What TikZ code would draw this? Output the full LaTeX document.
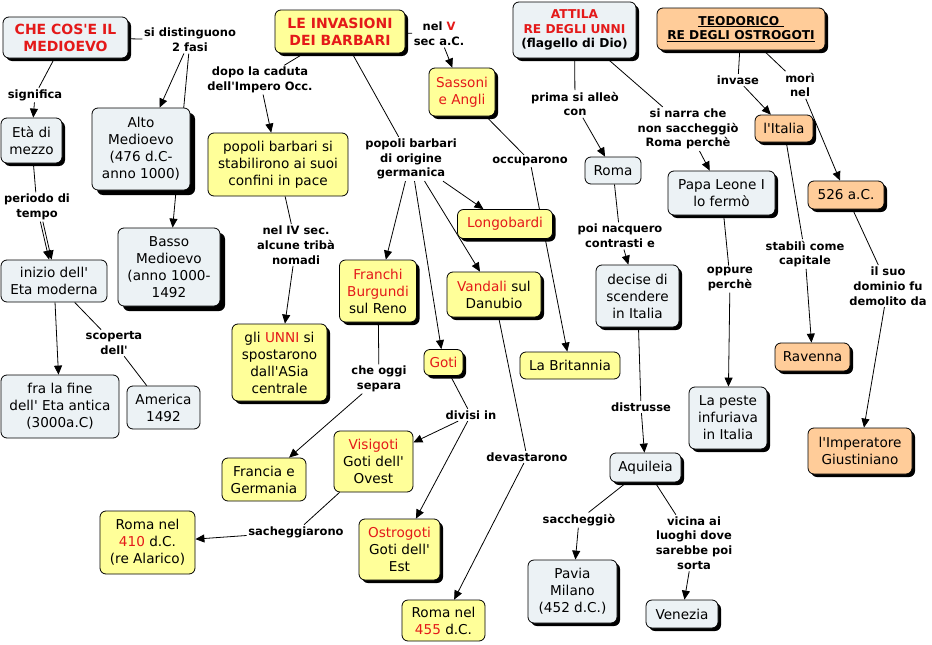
\documentclass[tikz,border=0pt]{standalone}
\usepackage{fontspec}
\setmainfont{DejaVu Sans}[Ligatures=TeXOff]
\usetikzlibrary{arrows.meta,shadows,backgrounds}

\definecolor{cmpale}{RGB}{236,242,245}
\definecolor{cmyellow}{RGB}{255,255,153}
\definecolor{cmpeach}{RGB}{255,204,153}
\definecolor{cmred}{RGB}{228,25,25}
\newcommand{\rd}[1]{\textcolor{cmred}{#1}}

\begin{document}
\begin{tikzpicture}[x=1pt, y=-1pt,
  concept/.style={draw, rounded corners=6pt, line width=0.8pt, align=center,
    inner sep=2pt, font=\fontsize{13.6}{17}\selectfont},
  pale/.style={concept, fill=cmpale},
  yel/.style={concept, fill=cmyellow},
  peach/.style={concept, fill=cmpeach},
  shad/.style={drop shadow={shadow xshift=3pt, shadow yshift=-3pt, opacity=1, fill=black}},
  bigshad/.style={drop shadow={shadow xshift=5pt, shadow yshift=-5pt, opacity=1, fill=black}},
  wh/.style 2 args={minimum width=#1pt, minimum height=#2pt},
  head/.style={font=\fontsize{14}{17}\selectfont\bfseries},
  subhead/.style={font=\fontsize{12.2}{14.8}\selectfont\bfseries},
  lbl/.style={align=center, inner sep=1.5pt, font=\fontsize{11.5}{14.8}\selectfont\bfseries},
  link/.style={line width=0.8pt},
  arr/.style={link, -{Triangle[length=9pt,width=8pt]}}]
  \useasboundingbox (0,0) rectangle (932,645);

  % medioevo
  \node[pale, shad, head, text=cmred, wh={125}{41}] (medioevo) at (65.5,37.5) {CHE COS'E IL\\MEDIOEVO};
  \node[pale, bigshad, wh={98}{82}] (alto) at (141,149) {Alto\\Medioevo\\(476 d.C-\\anno 1000)};
  \node[pale, bigshad, wh={102}{78}] (basso) at (169,267) {Basso\\Medioevo\\(anno 1000-\\1492};
  \node[pale, shad, wh={61}{45}] (eta) at (31.5,140.5) {Età di\\mezzo};
  \node[pale, wh={106}{42}] (inizio) at (54,281) {inizio dell'\\Eta moderna};
  \node[pale, wh={118}{63}] (fine) at (60,406.5) {fra la fine\\dell' Eta antica\\(3000a.C)};
  \node[pale, wh={73}{43}] (america) at (163.5,407.5) {America\\1492};

  % invasioni
  \node[yel, shad, head, text=cmred, wh={130}{43}] (invasioni) at (340,31.5) {LE INVASIONI\\DEI BARBARI};
  \node[yel, shad, text=cmred, wh={66}{48}] (sassoni) at (462,92) {Sassoni\\e Angli};
  \node[yel, wh={100}{27}] (britannia) at (570,365.5) {La Britannia};
  \node[yel, wh={140}{63}] (pace) at (278,164.5) {popoli barbari si\\stabilirono ai suoi\\confini in pace};
  \node[yel, shad, wh={95}{77}] (unni) at (279.5,362.5) {gli \rd{UNNI} si\\spostarono\\dall'ASia\\centrale};
  \node[yel, shad, wh={77}{62}] (franchi) at (378,291) {\rd{Franchi}\\\rd{Burgundi}\\sul Reno};
  \node[yel, wh={84}{43}] (francia) at (264,479.5) {Francia e\\Germania};
  \node[yel, shad, text=cmred, wh={39}{26}] (goti) at (443.5,362.5) {Goti};
  \node[yel, wh={79}{61}] (visigoti) at (373.5,461.5) {\rd{Visigoti}\\Goti dell'\\Ovest};
  \node[yel, wh={95}{63}] (roma410) at (147.5,542.5) {Roma nel\\\rd{410} d.C.\\(re Alarico)};
  \node[yel, shad, wh={81}{61}] (ostrogoti) at (399.5,549.5) {\rd{Ostrogoti}\\Goti dell'\\Est};
  \node[yel, shad, wh={94}{45}] (vandali) at (494,294.5) {\rd{Vandali} sul\\Danubio};
  \node[yel, wh={83}{41}] (roma455) at (443.5,620.5) {Roma nel\\\rd{455} d.C.};
  \node[yel, shad, text=cmred, wh={95}{29}] (longobardi) at (505,224) {Longobardi};

  % attila
  \node[pale, shad, subhead, wh={123}{56}] (attila) at (574.5,30) {\rd{ATTILA}\\\rd{RE DEGLI UNNI}\\(flagello di Dio)};
  \node[pale, wh={56}{27}] (roma) at (613,170.5) {Roma};
  \node[pale, shad, wh={83}{62}] (decise) at (637.5,296) {decise di\\scendere\\in Italia};
  \node[pale, shad, wh={71}{29}] (aquileia) at (645.5,467.5) {Aquileia};
  \node[pale, shad, wh={89}{63}] (pavia) at (572.5,591.5) {Pavia\\Milano\\(452 d.C.)};
  \node[pale, shad, wh={72}{28}] (venezia) at (682,614) {Venezia};
  \node[pale, shad, wh={107}{44}] (papa) at (721.5,193) {Papa Leone I\\lo fermò};
  \node[pale, shad, wh={78}{62}] (peste) at (728,418) {La peste\\infuriava\\in Italia};

  % teodorico
  \node[peach, shad, subhead, wh={168}{42}] (teodorico) at (741,29) {\underline{TEODORICO\ }\\\underline{RE DEGLI OSTROGOTI}};
  \node[peach, shad, wh={58}{27}] (italia) at (784,128.5) {l'Italia};
  \node[peach, shad, wh={76}{28}] (a526) at (846,195) {526 a.C.};
  \node[peach, shad, wh={75}{28}] (ravenna) at (812.5,357) {Ravenna};
  \node[peach, shad, wh={104}{46}] (imperatore) at (860,451) {l'Imperatore\\Giustiniano};

  % link labels
  \node[lbl] (dist) at (190,40) {si distinguono\\2 fasi};
  \node[lbl] (signif) at (35,95) {significa};
  \node[lbl] (periodo) at (37,207) {periodo di\\tempo};
  \node[lbl] (scoperta) at (114,343) {scoperta\\dell'};
  \node[lbl] (dopo) at (260,80) {dopo la caduta\\dell'Impero Occ.};
  \node[lbl] (nelV) at (439,34) {nel \rd{V}\\sec a.C.};
  \node[lbl] (germ) at (411,159) {popoli barbari\\di origine\\germanica};
  \node[lbl] (nelIV) at (296,245) {nel IV sec.\\alcune tribà\\nomadi};
  \node[lbl] (occ) at (530,161) {occuparono};
  \node[lbl] (cheoggi) at (379,379) {che oggi\\separa};
  \node[lbl] (divisi) at (471,415) {divisi in};
  \node[lbl] (sach) at (296,532) {sacheggiarono};
  \node[lbl] (devast) at (527,457) {devastarono};
  \node[lbl] (prima) at (575,104) {prima si alleò\\con};
  \node[lbl] (narra) at (688,129) {si narra che\\non saccheggiò\\Roma perchè};
  \node[lbl] (poi) at (620,236) {poi nacquero\\contrasti e};
  \node[lbl] (distr) at (641,407) {distrusse};
  \node[lbl] (sacc) at (579,520) {saccheggiò};
  \node[lbl] (vicina) at (694,543) {vicina ai\\luoghi dove\\sarebbe poi\\sorta};
  \node[lbl] (oppure) at (730,279) {oppure\\perchè};
  \node[lbl] (invase) at (738,80) {invase};
  \node[lbl] (mori) at (800,85) {morì\\nel};
  \node[lbl] (stabili) at (805,254) {stabilì come\\capitale};
  \node[lbl] (dominio) at (888,286) {il suo\\dominio fu\\demolito da};

  \begin{scope}[on background layer]
    \draw[link] (medioevo) -- (dist);
    \draw[arr] (dist) -- (alto);
    \draw[arr] (dist) -- (basso);
    \draw[link] (medioevo) -- (signif);
    \draw[arr] (signif) -- (eta);
    \draw[link] (eta) -- (periodo);
    \draw[arr] (periodo) -- (inizio);
    \draw[arr, transform canvas={xshift=2.5pt}] (periodo) -- (inizio);
    \draw[arr] (inizio) -- (fine);
    \draw[link] (inizio) -- (scoperta);
    \draw[link] (scoperta) -- (america);

    \draw[link] (invasioni) -- (nelV);
    \draw[arr] (nelV) -- (sassoni);
    \draw[link] (sassoni) -- (occ);
    \draw[arr] (occ) -- (britannia);
    \draw[link] (invasioni) -- (dopo);
    \draw[arr] (dopo) -- (pace);
    \draw[link] (pace) -- (nelIV);
    \draw[arr] (nelIV) -- (unni);
    \draw[link] (invasioni) -- (germ);
    \draw[arr] (germ) -- (franchi);
    \draw[arr] (germ) -- (goti);
    \draw[arr] (germ) -- (vandali);
    \draw[arr] (germ) -- (longobardi);
    \draw[link] (franchi) -- (cheoggi);
    \draw[arr] (cheoggi) -- (francia);
    \draw[link] (goti) -- (divisi);
    \draw[arr] (divisi) -- (visigoti);
    \draw[arr] (divisi) -- (ostrogoti);
    \draw[link] (visigoti) -- (sach);
    \draw[arr] (sach) -- (roma410);
    \draw[link] (vandali) -- (devast);
    \draw[arr] (devast) -- (roma455);

    \draw[link] (attila) -- (prima);
    \draw[arr] (prima) -- (roma);
    \draw[link] (roma) -- (poi);
    \draw[arr] (poi) -- (decise);
    \draw[link] (decise) -- (distr);
    \draw[arr] (distr) -- (aquileia);
    \draw[link] (aquileia) -- (sacc);
    \draw[arr] (sacc) -- (pavia);
    \draw[link] (aquileia) -- (vicina);
    \draw[arr] (vicina) -- (venezia);
    \draw[link] (attila) -- (narra);
    \draw[arr] (narra) -- (papa);
    \draw[link] (papa) -- (oppure);
    \draw[arr] (oppure) -- (peste);

    \draw[link] (teodorico) -- (invase);
    \draw[arr] (invase) -- (italia);
    \draw[link] (teodorico) -- (mori);
    \draw[arr] (mori) -- (a526);
    \draw[link] (italia) -- (stabili);
    \draw[arr] (stabili) -- (ravenna);
    \draw[link] (a526) -- (dominio);
    \draw[arr] (dominio) -- (imperatore);
  \end{scope}
\end{tikzpicture}
\end{document}
